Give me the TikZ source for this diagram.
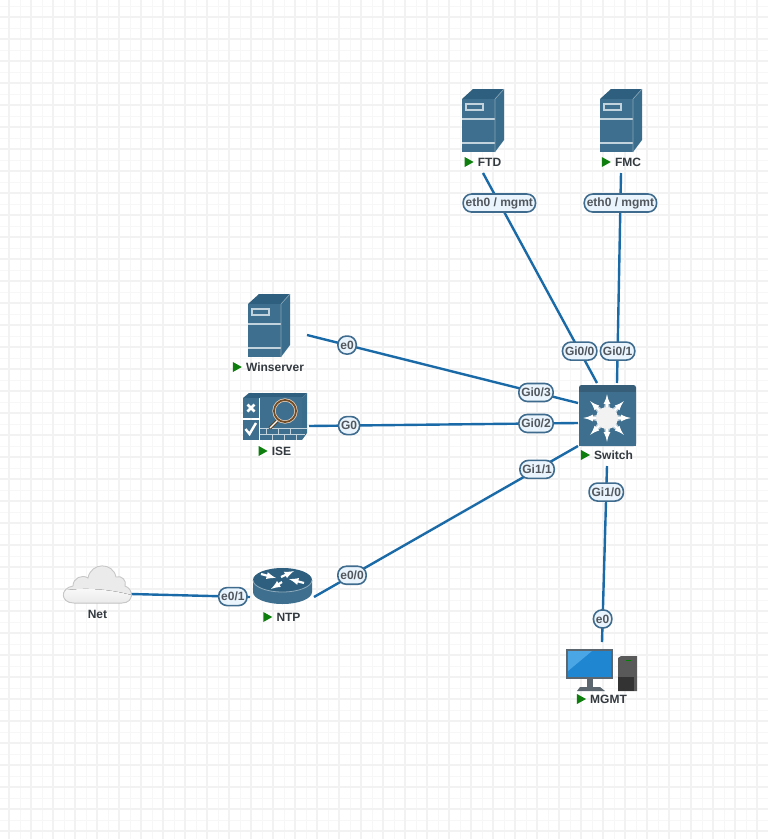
\documentclass[tikz,border=0pt]{standalone}
\usepackage{fontspec}
\setmainfont{Liberation Sans}

\definecolor{linkblue}{HTML}{1B6AA8}
\definecolor{portfill}{HTML}{E9F4FC}
\definecolor{portedge}{HTML}{3F6C8E}
\definecolor{devfront}{HTML}{3F6F8E}
\definecolor{devtop}{HTML}{2F5F7E}
\definecolor{devside}{HTML}{3A6D8B}
\definecolor{devline}{HTML}{C3D3DD}
\definecolor{runcolor}{HTML}{0E7F0E}
\definecolor{textgray}{HTML}{333A40}
\definecolor{screenblue}{HTML}{1F86D2}
\definecolor{screenlight}{HTML}{4BA6E6}
\definecolor{pcgray}{HTML}{5C666E}

\def\cloudpath{(74,603) .. controls (60,603) and (60,588) .. (73,586) .. controls (73,578) and (82,574) .. (88,578)
    .. controls (91,562) and (113,562) .. (116,577) .. controls (122,575) and (127,581) .. (125,586)
    .. controls (134,589) and (134,603) .. (122,603) -- cycle}

\tikzset{
  devbox/.style={inner sep=0pt,outer sep=0pt},
  devname/.style={inner sep=0pt,text=textgray,font=\fontsize{12}{12}\selectfont\bfseries},
  link/.style={draw=linkblue,line width=2.4pt},
  port/.style={draw=portedge,fill=portfill,line width=1.6pt,rounded corners=8.5pt,inner xsep=2.5pt,inner ysep=0pt,
    minimum height=18pt,text=textgray!85!white,font=\fontsize{12}{12}\selectfont\bfseries},
  pics/server/.style={code={
    \fill[devtop] (0,0) -- (11,-10) -- (42,-10) -- (33,0) -- cycle;
    \fill[devside] (33,0) -- (42,-10) -- (42,41) -- (33,53) -- cycle;
    \fill[devfront] (0,0) rectangle (33,53);
    \draw[devline,line width=1.2pt] (0,20) -- (33,20) (0,44) -- (33,44);
    \draw[devline,line width=1.2pt] (4,5) rectangle (21,11);
    \draw[devline!60!devtop,line width=.6pt] (33,0) -- (42,-10) (33,0) -- (33,53);
  }}
}

\begin{document}
\begin{tikzpicture}[x=1pt,y=-1pt]
  \useasboundingbox[fill=white] (0,0) rectangle (768,839);

  % grid
  \foreach \x in {20,42,...,768} \draw[black!3,line width=1pt] (\x,0) -- (\x,839);
  \foreach \y in {6,28,...,839} \draw[black!3,line width=1pt] (0,\y) -- (768,\y);
  \foreach \x in {9,31,...,768} \draw[black!5,line width=1.5pt] (\x,0) -- (\x,839);
  \foreach \y in {17,39,...,839} \draw[black!5,line width=1.5pt] (0,\y) -- (768,\y);

  % devices
  \node[devbox,minimum width=42pt,minimum height=85pt] (ftd) at (483,130.5) {};
  \node[devbox,minimum width=42pt,minimum height=85pt] (fmc) at (621,130.5) {};
  \node[devbox,minimum width=75pt,minimum height=84pt] (win) at (269.5,335) {};
  \node[devbox,minimum width=66pt,minimum height=66pt] (ise) at (276,426) {};
  \node[devbox,minimum width=58pt,minimum height=83pt] (sw) at (607,424.5) {};
  \node[devbox,minimum width=64pt,minimum height=60pt] (ntp) at (282,597) {};
  \node[devbox,minimum width=67pt,minimum height=56pt] (net) at (97.5,594) {};
  \node[devbox,minimum width=73pt,minimum height=66pt] (mgmt) at (602,675) {};

  % links
  \draw[link] (ftd.south) -- node[port,pos=.143] (ftdeth) {eth0 / mgmt} node[port,pos=.848] (gi00) {Gi0/0} ([xshift=-10pt]sw.north);
  \draw[link] (fmc.south) -- node[port,pos=.143] (fmceth) {eth0 / mgmt} node[port,pos=.848] (gi01) {Gi0/1} ([xshift=10pt]sw.north);
  \draw[link] (win.east) -- node[port,pos=.148] (wine0) {e0} node[port,pos=.845] (gi03) {Gi0/3} ([yshift=21.5pt]sw.west);
  \draw[link] (ise.east) -- node[port,pos=.149] (iseg0) {G0} node[port,pos=.844] (gi02) {Gi0/2} ([yshift=1.5pt]sw.west);
  \draw[link] (ntp.east) -- node[port,pos=.144] (ntpe00) {e0/0} node[port,pos=.845] (gi11) {Gi1/1} ([yshift=-21.5pt]sw.west);
  \draw[link] (net.east) -- node[port,pos=.856] (ntpe01) {e0/1} (ntp.west);
  \draw[link] (sw.south) -- node[port,pos=.148] (gi10) {Gi1/0} node[port,pos=.869] (mgmte0) {e0} (mgmt.north);

  % servers
  \pic at (462,99) {server};
  \pic at (600,99) {server};
  \pic at (248,304) {server};

  % ise
  \fill[devtop] (243,398) -- (249,393) -- (307,393) -- (302,398) -- cycle;
  \fill[devside] (302,398) -- (307,393) -- (307,433) -- (302,440) -- cycle;
  \fill[devfront] (260,397) rectangle (302,440);
  \fill[devfront] (243,398) rectangle (259,418);
  \fill[devfront] (243,419.5) rectangle (259,440);
  \draw[white,line width=2.6pt] (247.5,404.5) -- (254.5,411.5) (254.5,404.5) -- (247.5,411.5);
  \draw[white,line width=2.4pt] (245.5,429) -- (249.5,434) -- (256,423);
  \draw[devline,line width=.8pt] (260,428) -- (307,428) (260,434) -- (305,434);
  \foreach \x in {266,278,290} \draw[devline,line width=.8pt] (\x,428) -- (\x,434) (\x+6,434) -- (\x+6,440);
  \draw[brown!50!black,line width=3.5pt,line cap=round] (278,420) -- (270,428);
  \draw[white,line width=1.2pt,line cap=round] (278,420) -- (270,428);
  \draw[white!70!brown,line width=3.2pt] (285,411) circle (11);
  \draw[brown!60!black,line width=1.8pt] (285,411) circle (11);

  % switch
  \fill[devfront!85!black,rounded corners=2.5pt] (579,385) rectangle (636,446);
  \fill[devfront] (579,392) rectangle (636,446);
  \begin{scope}[shift={(607,418)}]
    \foreach \a in {0,45,...,315}
      \fill[devline] (\a-22:9) -- (\a:24) -- (\a+22:9) -- cycle;
    \foreach \a in {0,45,...,315}
      \draw[white,line width=2pt,-{latex}] (\a:10) -- (\a:23);
    \fill[black!5] (0,0) circle (11);
  \end{scope}

  % router
  \fill[devfront] (253,580) -- (253,592) arc[start angle=180,end angle=360,x radius=29.5,y radius=-12] -- (312,580) -- cycle;
  \fill[devtop] (282.5,580) ellipse (29.5 and 12);
  \draw[devline!60!devfront,line width=.8pt] (253,580) arc[start angle=180,end angle=360,x radius=29.5,y radius=-12];
  \draw[white,line width=2.2pt,-{latex}] (261,574) -- (276,578);
  \draw[white,line width=2.2pt,-{latex}] (281,577) -- (294,571);
  \draw[white,line width=2.2pt,-{latex}] (282,582) -- (271,589);
  \draw[white,line width=2.2pt,-{latex}] (304,583) -- (289,579);

  % cloud
  \fill[black!8] \cloudpath;
  \begin{scope}
    \clip \cloudpath;
    \fill[top color=black!2,bottom color=black!11] (60,591) .. controls (85,587) and (110,589) .. (135,596) -- (135,610) -- (60,610) -- cycle;
  \end{scope}
  \draw[black!22,line width=.9pt] \cloudpath;

  % pc
  \fill[pcgray] (566,649) rectangle (613,679);
  \fill[screenblue] (568,651) rectangle (611,677);
  \fill[screenlight] (568,651) -- (592,651) -- (568,671) -- cycle;
  \fill[pcgray] (587,679) rectangle (593,687);
  \fill[pcgray] (580,687) -- (600,687) -- (605,691) -- (577,691) -- cycle;
  \fill[black!65] (618,658) -- (621,656) -- (637,656) -- (637,691) -- (618,691) -- cycle;
  \fill[black!80] (618,677) rectangle (634,691);
  \fill[green!50!black] (626,660) rectangle (631,661);

  % names
  \node[devname] (ftdname) at (489.5,162) {FTD};
  \node[devname] (fmcname) at (628,162) {FMC};
  \node[devname] (winname) at (275,367) {Winserver};
  \node[devname] (isename) at (281.5,451) {ISE};
  \node[devname] (swname) at (613.5,455) {Switch};
  \node[devname] (ntpname) at (288.5,617) {NTP};
  \node[devname] (netname) at (97.5,614.5) {Net};
  \node[devname] (mgmtname) at (608.5,699) {MGMT};

  \foreach \n in {ftdname,fmcname,winname,isename,swname,ntpname,mgmtname}
    \fill[runcolor] ([xshift=-4pt]\n.west) -- ++(-9,-5) -- ++(0,10) -- cycle;
\end{tikzpicture}
\end{document}
